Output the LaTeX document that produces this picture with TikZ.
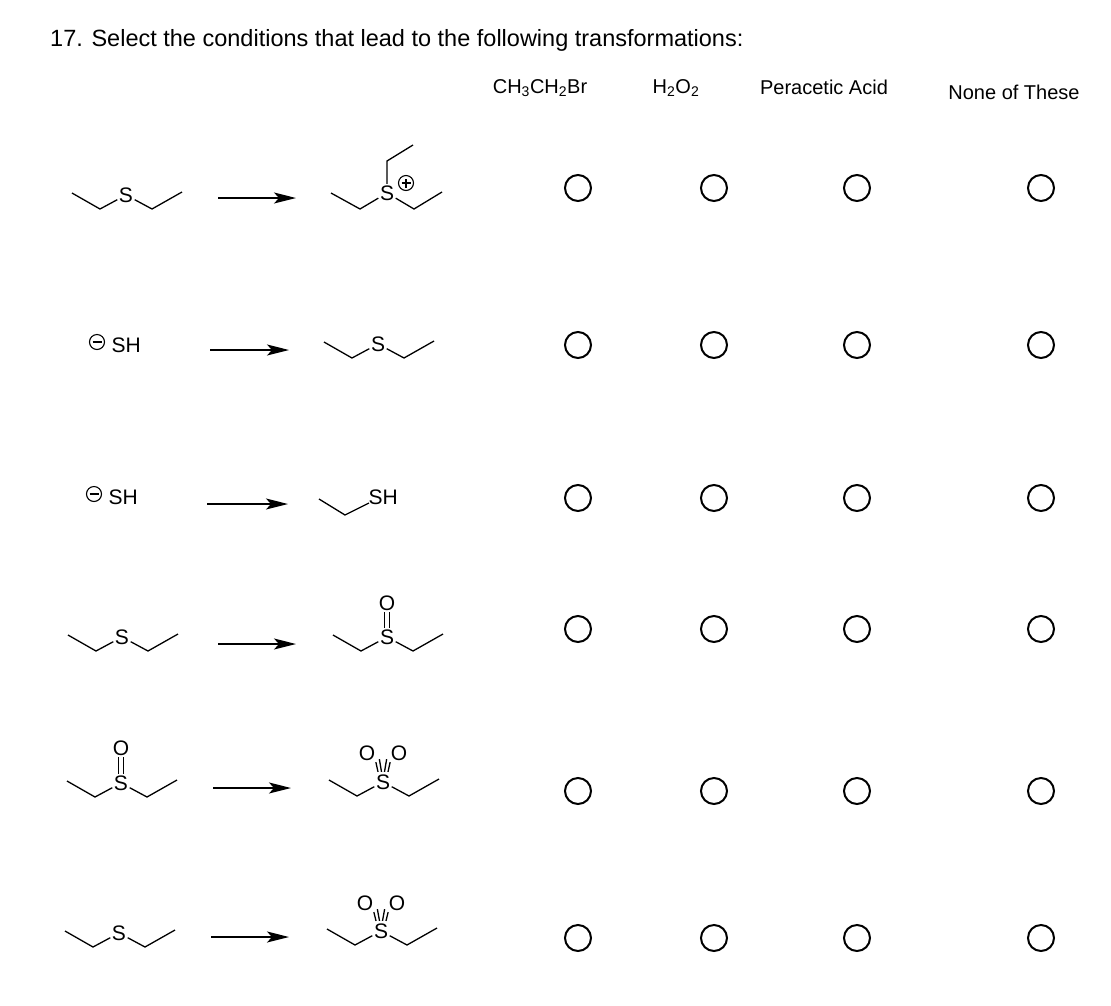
\documentclass[tikz,border=0pt]{standalone}
\usepackage{fontspec}
\setmainfont{Liberation Sans}
\usetikzlibrary{arrows.meta}
\tikzset{
  bond/.style={line width=1.3pt},
  atom/.style={font=\fontsize{21}{24}\selectfont, inner sep=1.5pt},
  rxn/.style={line width=1.8pt,-{Stealth[length=22pt,width=11pt,inset=5pt]}},
  radio/.style={circle,draw,line width=2pt,minimum size=26pt,inner sep=0pt},
  hdr/.style={font=\fontsize{20}{24}\selectfont},
}
\newcommand\ethS[3]{%
  \node[atom] (#1) at (#2,#3) {S};
  \draw[bond] (#1) -- ++(-26,14) -- ++(-28,-16);
  \draw[bond] (#1) -- ++(26,14) -- ++(30,-17);
}
\newcommand\chrg[4]{% name x y sign
  \node[circle,draw,line width=1.1pt,minimum size=15pt,inner sep=0pt] (#1) at (#2,#3) {};
  \draw[line width=1.4pt] ([xshift=-4.5pt]#1.center) -- ([xshift=4.5pt]#1.center);
  \ifx#4+\draw[line width=1.4pt] ([yshift=-4.5pt]#1.center) -- ([yshift=4.5pt]#1.center);\fi
}
\newcommand\sulfone[2]{% S node name, O prefix
  \draw[bond] ([shift={(-5,-1)}]#1.north) -- ([shift={(-1,0)}]#2a.south east);
  \draw[bond] ([shift={(-1.5,-1)}]#1.north) -- ([shift={(2.5,-3)}]#2a.south east);
  \draw[bond] ([shift={(5,-1)}]#1.north) -- ([shift={(1,0)}]#2b.south west);
  \draw[bond] ([shift={(1.5,-1)}]#1.north) -- ([shift={(-2.5,-3)}]#2b.south west);
}
\begin{document}
\begin{tikzpicture}[x=1pt,y=-1pt]
\path[use as bounding box] (0,0) rectangle (1111,1005);
\node[anchor=west,font=\fontsize{23.5}{28}\selectfont,inner sep=0pt] (title) at (50,40) {17. Select the conditions that lead to the following transformations:};
\node[hdr] (h1) at (540,88) {CH\textsubscript{3}CH\textsubscript{2}Br};
\node[hdr] (h2) at (676,88) {H\textsubscript{2}O\textsubscript{2}};
\node[hdr] (h3) at (824,87) {Peracetic Acid};
\node[hdr] (h4) at (1014,92) {None of These};
% row 1
\ethS{r1a}{126}{195}
\draw[rxn] (218,198) coordinate (a1s) -- (296,198) coordinate (a1e);
\node[atom] (r1b) at (387,193) {S};
\draw[bond] (r1b) -- ++(-27,16) -- ++(-29,-16);
\draw[bond] (r1b) -- ++(27,16) -- ++(28,-17);
\draw[bond] (r1b) -- ++(0,-32) -- ++(26,-16);
\chrg{p1}{406}{183}{+}
% row 2
\chrg{m2}{97}{342}{-}
\node[atom,anchor=west] (r2a) at (110,345) {SH};
\draw[rxn] (210,350) coordinate (a2s) -- (289,350) coordinate (a2e);
\ethS{r2b}{378}{344}
% row 3
\chrg{m3}{94}{494}{-}
\node[atom,anchor=west] (r3a) at (107,497) {SH};
\draw[rxn] (207,504) coordinate (a3s) -- (288,504) coordinate (a3e);
\node[atom,anchor=west] (r3b) at (367,497) {SH};
\draw[bond] (r3b.west) ++(2,6) coordinate (c3) -- ++(-24,12) -- ++(-26,-16);
% row 4
\ethS{r4a}{122}{637}
\draw[rxn] (218,644) coordinate (a4s) -- (296,644) coordinate (a4e);
\ethS{r4b}{387}{637}
\node[atom] (o4) at (387,603) {O};
\draw[bond] ([xshift=-2.5pt]r4b.north) -- ([xshift=-2.5pt]o4.south);
\draw[bond] ([xshift=2.5pt]r4b.north) -- ([xshift=2.5pt]o4.south);
% row 5
\ethS{r5a}{121}{783}
\node[atom] (o5) at (121,748) {O};
\draw[bond] ([xshift=-2.5pt]r5a.north) -- ([xshift=-2.5pt]o5.south);
\draw[bond] ([xshift=2.5pt]r5a.north) -- ([xshift=2.5pt]o5.south);
\draw[rxn] (213,788) coordinate (a5s) -- (291,788) coordinate (a5e);
\ethS{r5b}{383}{782}
\node[atom] (o5a) at (367,753) {O};
\node[atom] (o5b) at (399,753) {O};
\sulfone{r5b}{o5}
% row 6
\ethS{r6a}{119}{933}
\draw[rxn] (211,937) coordinate (a6s) -- (289,937) coordinate (a6e);
\ethS{r6b}{381}{931}
\node[atom] (o6a) at (365,903) {O};
\node[atom] (o6b) at (397,903) {O};
\sulfone{r6b}{o6}
% radio buttons
\foreach \r/\y in {1/188,2/345,3/498,4/629,5/791,6/938}{
  \foreach \c/\x in {1/578,2/714,3/857,4/1041}{
    \node[radio] (b\r\c) at (\x,\y) {};
  }
}
\end{tikzpicture}
\end{document}
